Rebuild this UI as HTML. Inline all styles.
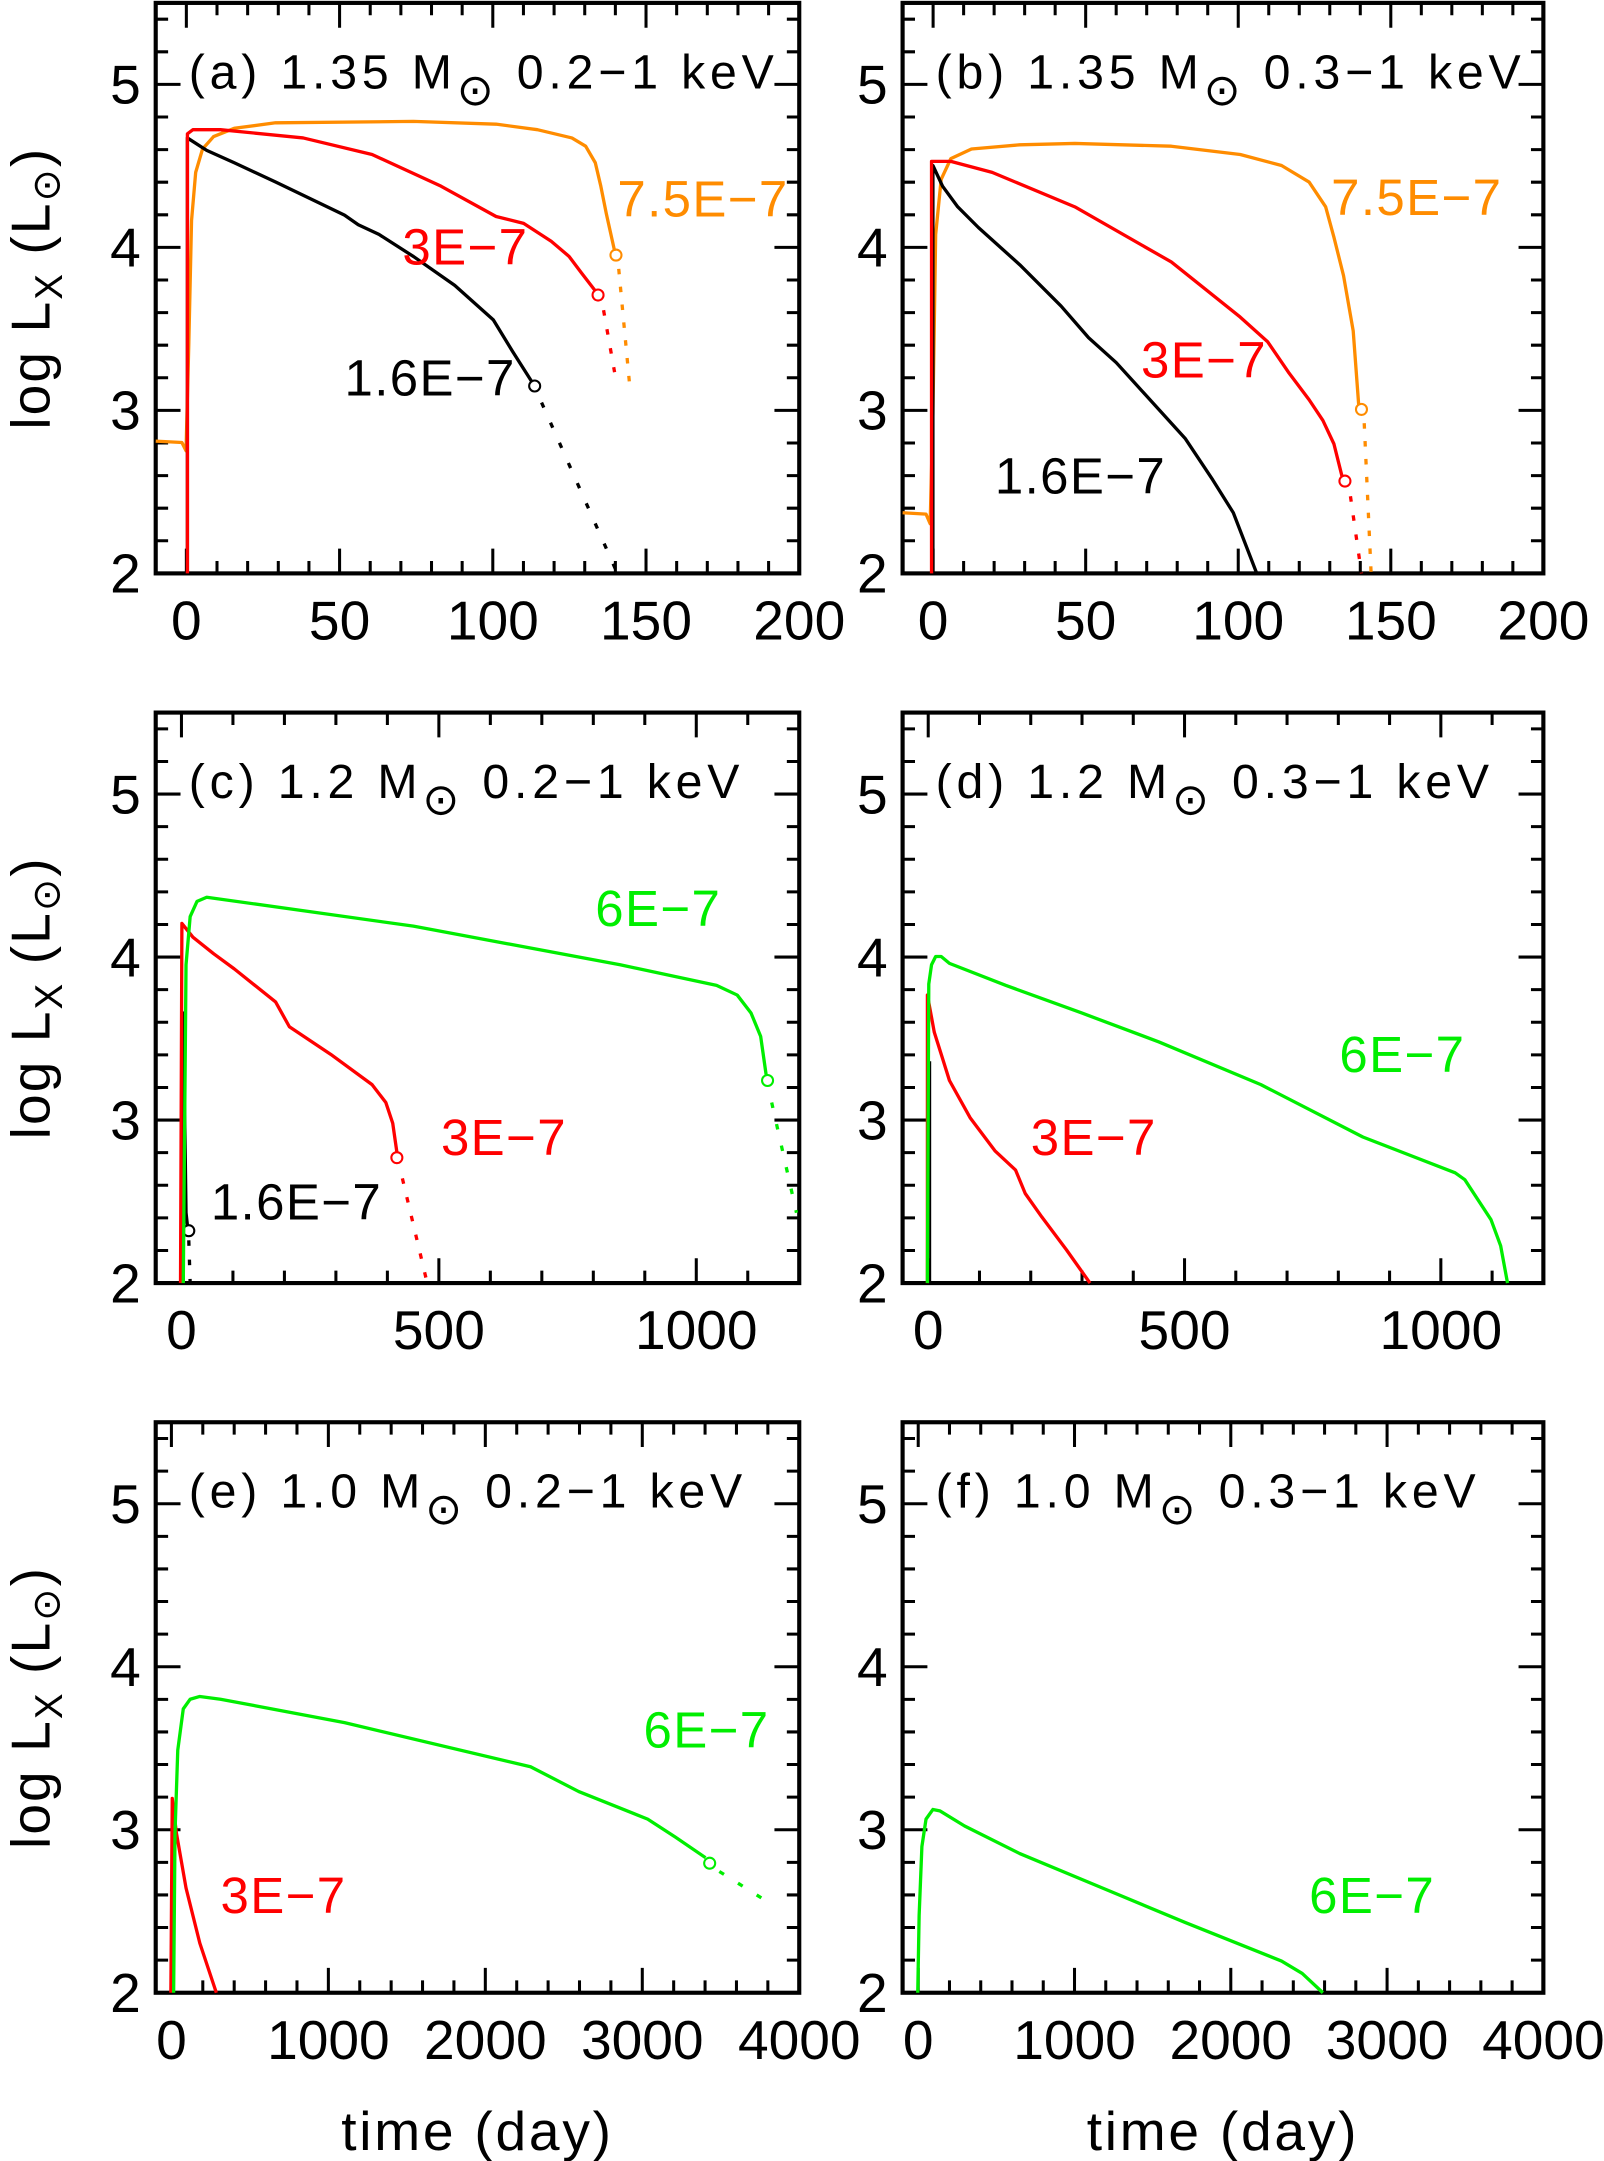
<!DOCTYPE html>
<html><head><meta charset="utf-8"><style>
html,body{margin:0;padding:0;background:#fff;}
svg{display:block;}
text{font-family:"Liberation Sans","DejaVu Sans",sans-serif;}
</style></head><body>
<svg id="s" xmlns="http://www.w3.org/2000/svg" width="1604" height="2161" viewBox="0 0 1164 1568">
<g id="axes"></g>
<g fill="none" stroke-width="2.4" stroke-linejoin="round">
<!-- panel a -->
<path stroke="#ff8c00" d="M113,320 L132,321 L135,327 L137,250 L139,160 L142,125 L147,108 L155,99 L170,93 L200,89 L300,88 L360,90 L390,94 L415,100 L425,106 L432,118 L436,135 L440,155 L446,182"/>
<path stroke="#ff8c00" stroke-dasharray="4,9" d="M449,195 L457,280"/>
<circle stroke="#ff8c00" stroke-width="1.5" cx="447" cy="185" r="4"/>
<path stroke="#000" d="M136,416 L136,100 L150,109 L170,118 L200,132 L250,156 L260,163 L275,170 L300,186 L330,207 L358,232 L372,255 L386,277"/>
<path stroke="#000" stroke-dasharray="4,12" d="M393,292 L448,416"/>
<circle stroke="#000" stroke-width="1.5" cx="388" cy="280" r="4"/>
<path stroke="#f00" d="M136,416 L136,97 L140,94 L160,94 L220,100 L270,112 L320,135 L360,157 L380,162 L400,175 L413,186 L422,198 L432,211"/>
<path stroke="#f00" stroke-dasharray="4,10" d="M438,225 L446,270"/>
<circle stroke="#f00" stroke-width="1.5" cx="434" cy="214" r="4"/>
<!-- panel b -->
<path stroke="#ff8c00" d="M655,372 L672,373 L675,380 L677,300 L679,170 L683,130 L690,115 L705,108 L740,105 L780,104 L850,106 L900,112 L930,120 L950,132 L962,150 L968,172 L975,200 L982,240 L986,294"/>
<path stroke="#ff8c00" stroke-dasharray="4,9" d="M990,307 L995,416"/>
<circle stroke="#ff8c00" stroke-width="1.5" cx="988" cy="297" r="4"/>
<path stroke="#000" d="M677,416 L677,120 L684,135 L695,150 L710,165 L740,192 L770,222 L790,245 L810,263 L830,285 L860,318 L880,348 L895,372 L912,416"/>
<path stroke="#f00" d="M676,416 L676,117 L690,117 L720,125 L780,150 L850,190 L900,230 L920,248 L935,270 L950,290 L960,305 L968,322 L974,346"/>
<path stroke="#f00" stroke-dasharray="4,10" d="M980,360 L988,416"/>
<circle stroke="#f00" stroke-width="1.5" cx="976" cy="349" r="4"/>
<!-- panel c -->
<path stroke="#000" d="M133,931 L133,735 L135,880 L136,889"/>
<path stroke="#000" stroke-dasharray="4,10" d="M137,900 L138,931"/>
<circle stroke="#000" stroke-width="1.5" cx="137" cy="893" r="4"/>
<path stroke="#f00" d="M131,931 L132,670 L140,680 L155,692 L170,703 L200,727 L210,745 L240,765 L270,787 L280,800 L285,815 L288,836"/>
<path stroke="#f00" stroke-dasharray="4,10" d="M292,855 L310,931"/>
<circle stroke="#f00" stroke-width="1.5" cx="288" cy="840" r="4"/>
<path stroke="#0e0" d="M133,931 L135,700 L138,665 L143,654 L150,651 L300,672 L450,700 L520,715 L535,722 L545,735 L552,752 L556,780"/>
<path stroke="#0e0" stroke-dasharray="4,12" d="M560,800 L578,880"/>
<circle stroke="#0e0" stroke-width="1.5" cx="557" cy="784" r="4"/>
<!-- panel d -->
<path stroke="#000" stroke-width="1.5" d="M675,931 L675,770"/>
<path stroke="#f00" d="M673,931 L673,722 L678,749 L684,768 L689,784 L704,811 L722,835 L737,849 L744,866 L756,883 L774,907 L791,931"/>
<path stroke="#0e0" d="M673,931 L674,714 L676,700 L679,694 L683,694 L689,699 L730,715 L785,735 L841,756 L915,787 L989,825 L1056,851 L1063,856 L1082,885 L1089,904 L1094,931"/>
<!-- panel e -->
<path stroke="#f00" d="M124,1446 L125,1305 L128,1330 L135,1370 L145,1410 L157,1446"/>
<path stroke="#0e0" d="M126,1446 L127,1330 L129,1270 L133,1240 L138,1233 L145,1231 L160,1233 L250,1250 L385,1282 L420,1300 L470,1320 L490,1333 L512,1348"/>
<path stroke="#0e0" stroke-dasharray="4,12" d="M522,1358 L557,1380"/>
<circle stroke="#0e0" stroke-width="1.5" cx="515" cy="1352" r="4"/>
<!-- panel f -->
<path stroke="#0e0" d="M666,1446 L667,1390 L669,1340 L672,1320 L677,1313 L682,1314 L700,1325 L740,1345 L800,1370 L860,1395 L930,1423 L945,1432 L960,1446"/>
</g>
<g font-size="37" letter-spacing="1">
<text x="448" y="157" fill="#ff8c00">7.5E−7</text>
<text x="292" y="192" fill="#f00">3E−7</text>
<text x="250" y="287" fill="#000">1.6E−7</text>
<text x="966" y="156" fill="#ff8c00">7.5E−7</text>
<text x="828" y="274" fill="#f00">3E−7</text>
<text x="722" y="358" fill="#000">1.6E−7</text>
<text x="432" y="672" fill="#0e0">6E−7</text>
<text x="320" y="838" fill="#f00">3E−7</text>
<text x="153" y="885" fill="#000">1.6E−7</text>
<text x="972" y="778" fill="#0e0">6E−7</text>
<text x="748" y="838" fill="#f00">3E−7</text>
<text x="467" y="1268" fill="#0e0">6E−7</text>
<text x="160" y="1388" fill="#f00">3E−7</text>
<text x="950" y="1388" fill="#0e0">6E−7</text>
</g>
</svg>
<script>
(function(){
var NS="http://www.w3.org/2000/svg",g=document.getElementById("axes");
function el(t,a,txt){var e=document.createElementNS(NS,t);for(var k in a)e.setAttribute(k,a[k]);if(txt!=null)e.textContent=txt;g.appendChild(e);return e;}
function ts(parent,txt,attrs){var s=document.createElementNS(NS,"tspan");for(var k in attrs)s.setAttribute(k,attrs[k]);s.textContent=txt;parent.appendChild(s);return s;}
var P=[
{x0:113,x1:580,y0:2,y1:416,a:-10,b:200,M:50,m:10,lab:"(a)",mass:"1.35",band:"0.2−1",left:true,xt:false},
{x0:655,x1:1120,y0:2,y1:416,a:-10,b:200,M:50,m:10,lab:"(b)",mass:"1.35",band:"0.3−1",left:false,xt:false},
{x0:113,x1:580,y0:517,y1:931,a:-50,b:1200,M:500,m:100,lab:"(c)",mass:"1.2",band:"0.2−1",left:true,xt:false},
{x0:655,x1:1120,y0:517,y1:931,a:-50,b:1200,M:500,m:100,lab:"(d)",mass:"1.2",band:"0.3−1",left:false,xt:false},
{x0:113,x1:580,y0:1032,y1:1446,a:-100,b:4000,M:1000,m:200,lab:"(e)",mass:"1.0",band:"0.2−1",left:true,xt:true},
{x0:655,x1:1120,y0:1032,y1:1446,a:-100,b:4000,M:1000,m:200,lab:"(f)",mass:"1.0",band:"0.3−1",left:false,xt:true}];
P.forEach(function(p){
 var d="";
 function X(v){return p.x0+(v-p.a)/(p.b-p.a)*(p.x1-p.x0);}
 function Y(v){return p.y1-(v-2)/3.5*(p.y1-p.y0);}
 for(var v=Math.ceil(p.a/p.m)*p.m;v<=p.b+1e-9;v+=p.m){
  var x=X(v),L=(Math.abs(v%p.M)<1e-6)?18:9;
  d+="M"+x+","+p.y1+"v"+(-L)+"M"+x+","+p.y0+"v"+L;
  if(L==18){el("text",{x:x,y:p.y1+48,"font-size":40,"text-anchor":"middle"},String(v));}
 }
 for(var i=0;i<=17;i++){
  var yv=2+i*0.2,y=Y(yv),L=(i%5==0)?18:9;
  d+="M"+p.x0+","+y+"h"+L+"M"+p.x1+","+y+"h"+(-L);
  if(i%5==0&&i<17){el("text",{x:p.x0-22,y:y+14,"font-size":40,"text-anchor":"middle"},String(Math.round(yv)));}
 }
 el("path",{d:d,stroke:"#000","stroke-width":2.2,fill:"none"});
 el("rect",{x:p.x0,y:p.y0,width:p.x1-p.x0,height:p.y1-p.y0,fill:"none",stroke:"#000","stroke-width":3});
 var t=el("text",{x:p.x0+24,y:p.y0+62,"font-size":35,"letter-spacing":"3.5","xml:space":"preserve"});
 t.textContent=p.lab+" "+p.mass+" M";
 ts(t,"⊙",{dy:"12","font-size":"32"});
 ts(t," "+p.band+"  keV",{dy:"-12"});
 if(p.left){
  var cy=(p.y0+p.y1)/2;
  var yt=el("text",{x:0,y:0,"font-size":40,"letter-spacing":"1.5","text-anchor":"middle",transform:"translate(36,"+cy+") rotate(-90)","xml:space":"preserve"});
  yt.textContent="log L";
  ts(yt,"X",{"font-size":"28",dy:"9"});
  ts(yt," (L",{dy:"-9"});
  ts(yt,"⊙",{"font-size":"28",dy:"7"});
  ts(yt,")",{dy:"-7"});
 }
 if(p.xt){el("text",{x:(p.x0+p.x1)/2,y:1560,"font-size":40,"letter-spacing":"2","text-anchor":"middle","xml:space":"preserve"},"time  (day)");}
});
})();
</script>
</body></html>
